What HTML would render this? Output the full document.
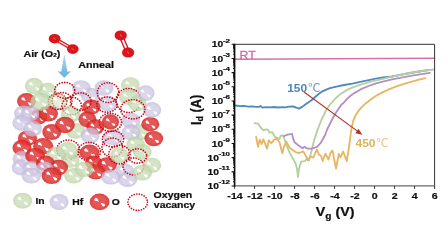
<!DOCTYPE html>
<html lang="en"><head><meta charset="utf-8"><title>Oxygen vacancy annealing figure</title>
<style>html,body{margin:0;padding:0;background:#fff}body{width:448px;height:252px;overflow:hidden}</style></head>
<body>
<svg width="448" height="252" viewBox="0 0 448 252" style="display:block" font-family='"Liberation Sans", "Noto Sans CJK SC", sans-serif' font-weight="bold">
<defs><linearGradient id="ba" x1="0" y1="0" x2="0" y2="1"><stop offset="0" stop-color="#b4dcf2"/><stop offset="0.55" stop-color="#86c3e8"/><stop offset="1" stop-color="#62afe0"/></linearGradient><radialGradient id="gg"><stop offset="0.6" stop-color="#c8dbb3"/><stop offset="1" stop-color="#bad0a1"/></radialGradient><radialGradient id="gp"><stop offset="0.6" stop-color="#d0c8e3"/><stop offset="1" stop-color="#c1b8d9"/></radialGradient><radialGradient id="gr"><stop offset="0.6" stop-color="#e03a3a"/><stop offset="1" stop-color="#d72020"/></radialGradient><filter id="bl3" x="-5%" y="-5%" width="110%" height="110%"><feGaussianBlur stdDeviation="0.25"/></filter><filter id="bl2" x="-2%" y="-2%" width="104%" height="104%"><feGaussianBlur stdDeviation="0.35"/></filter><filter id="bl" x="-5%" y="-5%" width="110%" height="110%"><feGaussianBlur stdDeviation="0.42"/></filter><path id="hl" transform="rotate(37)" fill="#fff" d="M-0.9,0 C-2.2,-0.25 -3.2,-1.3 -4.7,-1.5 C-6.9,-1.7 -6.9,1.7 -4.7,1.5 C-3.2,1.3 -2.2,0.25 -0.9,0 Z M0.9,0 C2.2,-0.25 3.2,-1.2 4.7,-1.4 C6.8,-1.6 6.8,1.6 4.7,1.4 C3.2,1.2 2.2,0.25 0.9,0 Z"/></defs>
<rect width="448" height="252" fill="#fff"/>
<g id="o2" filter="url(#bl2)"><line x1="54.6" y1="38.7" x2="72.8" y2="49.1" stroke="#d6181e" stroke-width="3.7"/><line x1="54.6" y1="38.7" x2="72.8" y2="49.1" stroke="#fff" stroke-width="1.15"/><ellipse cx="54.6" cy="38.7" rx="5.9" ry="4.8" fill="#d8181e"/><line x1="53.30" y1="37.96" x2="55.90" y2="39.44" stroke="#ef8f8a" stroke-width="0.6"/><ellipse cx="72.8" cy="49.1" rx="5.9" ry="4.8" fill="#d8181e"/><line x1="71.50" y1="48.36" x2="74.10" y2="49.84" stroke="#ef8f8a" stroke-width="0.6"/><line x1="120.7" y1="35.4" x2="128.1" y2="52.6" stroke="#d6181e" stroke-width="4.7"/><line x1="120.7" y1="35.4" x2="128.1" y2="52.6" stroke="#fff" stroke-width="1.9"/><ellipse cx="120.7" cy="35.4" rx="6.1" ry="5.0" fill="#d8181e"/><line x1="120.11" y1="34.02" x2="121.29" y2="36.78" stroke="#ef8f8a" stroke-width="0.6"/><ellipse cx="128.1" cy="52.6" rx="6.1" ry="5.0" fill="#d8181e"/><line x1="127.51" y1="51.22" x2="128.69" y2="53.98" stroke="#ef8f8a" stroke-width="0.6"/></g>
<path d="M64.3,54.0 L67.4,71.7 L71.0,71.2 L64.3,77.8 L57.6,71.2 L61.2,71.7 Z" fill="url(#ba)" filter="url(#bl2)"/>
<text transform="translate(23.4 56.6) scale(1.18 1)" font-size="9.1" text-anchor="start" fill="#111" stroke="#111" stroke-width="0.22">Air (O<tspan font-size="5.4" dy="0.4">2</tspan><tspan dy="-0.4">)</tspan></text>
<text transform="translate(78.2 67.7) scale(1.18 1)" font-size="9.1" text-anchor="start" fill="#111" stroke="#111" stroke-width="0.22">Anneal</text>
<g id="balls" filter="url(#bl)">
<ellipse cx="47.5" cy="90.8" rx="9.3" ry="8" fill="url(#gg)" fill-opacity="0.75"/><use href="#hl" transform="translate(47.65 91.20) scale(0.930)"/>
<ellipse cx="34.1" cy="86" rx="9.2" ry="8.2" fill="url(#gg)" fill-opacity="0.75"/><use href="#hl" transform="translate(34.25 86.40) scale(0.920)"/>
<ellipse cx="26.5" cy="101.2" rx="9.5" ry="8.2" fill="url(#gr)" fill-opacity="0.85"/><use href="#hl" transform="translate(26.65 101.60) scale(0.950)"/>
<ellipse cx="38.5" cy="116.8" rx="8.8" ry="7.6" fill="url(#gr)" fill-opacity="0.85"/><use href="#hl" transform="translate(38.65 117.20) scale(0.880)"/>
<ellipse cx="48.2" cy="113.5" rx="9.8" ry="8" fill="url(#gr)" fill-opacity="0.85"/><use href="#hl" transform="translate(48.35 113.90) scale(0.980)"/>
<ellipse cx="62" cy="101" rx="10" ry="8.5" fill="none" stroke="#c20812" stroke-width="1.7" stroke-dasharray="0.01 2.62" stroke-linecap="round"/>
<ellipse cx="57.5" cy="101.5" rx="9.3" ry="7.8" fill="none" stroke="#c20812" stroke-width="1.7" stroke-dasharray="0.01 2.62" stroke-linecap="round"/>
<ellipse cx="58" cy="101.2" rx="9.3" ry="8" fill="url(#gg)" fill-opacity="0.5"/><use href="#hl" transform="translate(58.15 101.60) scale(0.930)"/>
<ellipse cx="40.7" cy="101.8" rx="10.3" ry="9.2" fill="url(#gg)" fill-opacity="0.75"/><use href="#hl" transform="translate(40.85 102.20) scale(1.030)"/>
<ellipse cx="90" cy="95.5" rx="9.3" ry="7.8" fill="url(#gp)" fill-opacity="0.75"/><use href="#hl" transform="translate(90.15 95.90) scale(0.930)"/>
<ellipse cx="81.3" cy="88" rx="9.4" ry="7.8" fill="url(#gp)" fill-opacity="0.75"/><use href="#hl" transform="translate(81.45 88.40) scale(0.940)"/>
<ellipse cx="104" cy="88" rx="9.5" ry="7.7" fill="url(#gp)" fill-opacity="0.75"/><use href="#hl" transform="translate(104.15 88.40) scale(0.950)"/>
<ellipse cx="107.8" cy="103.5" rx="9" ry="7.8" fill="url(#gp)" fill-opacity="0.75"/><use href="#hl" transform="translate(107.95 103.90) scale(0.900)"/>
<ellipse cx="91.3" cy="107" rx="9.2" ry="7.6" fill="url(#gr)" fill-opacity="0.85"/><use href="#hl" transform="translate(91.45 107.40) scale(0.920)"/>
<ellipse cx="130.3" cy="85" rx="9.4" ry="7.7" fill="url(#gg)" fill-opacity="0.75"/><use href="#hl" transform="translate(130.45 85.40) scale(0.940)"/>
<ellipse cx="23.2" cy="113.4" rx="9.2" ry="7.8" fill="url(#gp)" fill-opacity="0.75"/><use href="#hl" transform="translate(23.35 113.80) scale(0.920)"/>
<ellipse cx="30" cy="113.8" rx="9.2" ry="7.8" fill="url(#gp)" fill-opacity="0.75"/><use href="#hl" transform="translate(30.15 114.20) scale(0.920)"/>
<ellipse cx="21.7" cy="123" rx="9.3" ry="7.9" fill="url(#gp)" fill-opacity="0.75"/><use href="#hl" transform="translate(21.85 123.40) scale(0.930)"/>
<ellipse cx="71.7" cy="106" rx="9.8" ry="8.8" fill="none" stroke="#c20812" stroke-width="1.7" stroke-dasharray="0.01 2.62" stroke-linecap="round"/>
<ellipse cx="70.5" cy="114.2" rx="9.6" ry="8.6" fill="url(#gg)" fill-opacity="0.75"/><use href="#hl" transform="translate(70.65 114.60) scale(0.960)"/>
<ellipse cx="51.8" cy="132" rx="9.5" ry="8" fill="url(#gr)" fill-opacity="0.85"/><use href="#hl" transform="translate(51.95 132.40) scale(0.950)"/>
<ellipse cx="75.5" cy="130.8" rx="9.3" ry="7.9" fill="url(#gg)" fill-opacity="0.75"/><use href="#hl" transform="translate(75.65 131.20) scale(0.930)"/>
<ellipse cx="64.9" cy="125" rx="9.9" ry="8.2" fill="url(#gr)" fill-opacity="0.85"/><use href="#hl" transform="translate(65.05 125.40) scale(0.990)"/>
<ellipse cx="87.4" cy="119.3" rx="9" ry="8" fill="url(#gr)" fill-opacity="0.85"/><use href="#hl" transform="translate(87.55 119.70) scale(0.900)"/>
<ellipse cx="95.3" cy="127" rx="9" ry="7.8" fill="url(#gr)" fill-opacity="0.85"/><use href="#hl" transform="translate(95.45 127.40) scale(0.900)"/>
<ellipse cx="110.5" cy="121.8" rx="8.6" ry="7.6" fill="url(#gr)" fill-opacity="0.85"/><use href="#hl" transform="translate(110.65 122.20) scale(0.860)"/>
<ellipse cx="90.2" cy="135.7" rx="9.4" ry="7.9" fill="url(#gp)" fill-opacity="0.75"/><use href="#hl" transform="translate(90.35 136.10) scale(0.940)"/>
<ellipse cx="131" cy="120.7" rx="9.3" ry="7.9" fill="url(#gp)" fill-opacity="0.75"/><use href="#hl" transform="translate(131.15 121.10) scale(0.930)"/>
<ellipse cx="140" cy="132.4" rx="9.3" ry="7.9" fill="url(#gg)" fill-opacity="0.75"/><use href="#hl" transform="translate(140.15 132.80) scale(0.930)"/>
<ellipse cx="131" cy="132.5" rx="9.3" ry="7.9" fill="url(#gp)" fill-opacity="0.75"/><use href="#hl" transform="translate(131.15 132.90) scale(0.930)"/>
<ellipse cx="150.3" cy="124.2" rx="9" ry="7.3" fill="url(#gr)" fill-opacity="0.85"/><use href="#hl" transform="translate(150.45 124.60) scale(0.900)"/>
<ellipse cx="128.6" cy="100.5" rx="12.6" ry="12" fill="none" stroke="#c20812" stroke-width="1.7" stroke-dasharray="0.01 2.62" stroke-linecap="round"/>
<ellipse cx="128.3" cy="97" rx="9.3" ry="7.9" fill="url(#gg)" fill-opacity="0.75"/><use href="#hl" transform="translate(128.45 97.40) scale(0.930)"/>
<ellipse cx="137.2" cy="103.4" rx="9.3" ry="7.8" fill="url(#gg)" fill-opacity="0.75"/><use href="#hl" transform="translate(137.35 103.80) scale(0.930)"/>
<ellipse cx="145.6" cy="93.1" rx="9" ry="7.9" fill="url(#gp)" fill-opacity="0.75"/><use href="#hl" transform="translate(145.75 93.50) scale(0.900)"/>
<ellipse cx="152" cy="110" rx="9.2" ry="7.9" fill="url(#gp)" fill-opacity="0.75"/><use href="#hl" transform="translate(152.15 110.40) scale(0.920)"/>
<ellipse cx="27.5" cy="138.2" rx="9.6" ry="7.6" fill="url(#gr)" fill-opacity="0.85"/><use href="#hl" transform="translate(27.65 138.60) scale(0.960)"/>
<ellipse cx="32.7" cy="128.6" rx="9.3" ry="7.9" fill="url(#gp)" fill-opacity="0.75"/><use href="#hl" transform="translate(32.85 129.00) scale(0.930)"/>
<ellipse cx="22" cy="147.8" rx="9.5" ry="8" fill="url(#gr)" fill-opacity="0.85"/><use href="#hl" transform="translate(22.15 148.20) scale(0.950)"/>
<ellipse cx="43.2" cy="146.3" rx="10.1" ry="8.2" fill="url(#gr)" fill-opacity="0.85"/><use href="#hl" transform="translate(43.35 146.70) scale(1.010)"/>
<ellipse cx="21.8" cy="159" rx="9.3" ry="7.9" fill="url(#gp)" fill-opacity="0.75"/><use href="#hl" transform="translate(21.95 159.40) scale(0.930)"/>
<ellipse cx="35.1" cy="155.8" rx="9.9" ry="7.8" fill="url(#gr)" fill-opacity="0.85"/><use href="#hl" transform="translate(35.25 156.20) scale(0.990)"/>
<ellipse cx="68.1" cy="149.7" rx="11.3" ry="9.7" fill="none" stroke="#c20812" stroke-width="1.7" stroke-dasharray="0.01 2.62" stroke-linecap="round"/>
<ellipse cx="70.3" cy="160" rx="9.3" ry="7.8" fill="url(#gg)" fill-opacity="0.75"/><use href="#hl" transform="translate(70.45 160.40) scale(0.930)"/>
<ellipse cx="67.8" cy="150.5" rx="9.9" ry="8.5" fill="url(#gg)" fill-opacity="0.75"/><use href="#hl" transform="translate(67.95 150.90) scale(0.990)"/>
<ellipse cx="56" cy="155" rx="9.9" ry="8.2" fill="url(#gg)" fill-opacity="0.75"/><use href="#hl" transform="translate(56.15 155.40) scale(0.990)"/>
<ellipse cx="112.8" cy="137" rx="10.2" ry="8" fill="url(#gp)" fill-opacity="0.75"/><use href="#hl" transform="translate(112.95 137.40) scale(1.020)"/>
<ellipse cx="89.2" cy="151.6" rx="11.2" ry="9.2" fill="none" stroke="#c20812" stroke-width="1.7" stroke-dasharray="0.01 2.62" stroke-linecap="round"/>
<ellipse cx="89.5" cy="152.5" rx="9.9" ry="7.9" fill="url(#gr)" fill-opacity="0.85"/><use href="#hl" transform="translate(89.65 152.90) scale(0.990)"/>
<ellipse cx="93.5" cy="162.5" rx="8.5" ry="7" fill="url(#gr)" fill-opacity="0.85"/><use href="#hl" transform="translate(93.65 162.90) scale(0.850)"/>
<ellipse cx="107" cy="165" rx="9.9" ry="7.7" fill="url(#gr)" fill-opacity="0.85"/><use href="#hl" transform="translate(107.15 165.40) scale(0.990)"/>
<ellipse cx="112.3" cy="147.6" rx="10.3" ry="9.5" fill="none" stroke="#c20812" stroke-width="1.7" stroke-dasharray="0.01 2.62" stroke-linecap="round"/>
<ellipse cx="119.3" cy="155.3" rx="9.2" ry="8" fill="url(#gg)" fill-opacity="0.75"/><use href="#hl" transform="translate(119.45 155.70) scale(0.920)"/>
<ellipse cx="135.5" cy="144.5" rx="9.3" ry="7.9" fill="url(#gg)" fill-opacity="0.75"/><use href="#hl" transform="translate(135.65 144.90) scale(0.930)"/>
<ellipse cx="153.8" cy="138.6" rx="9.4" ry="7.6" fill="url(#gr)" fill-opacity="0.85"/><use href="#hl" transform="translate(153.95 139.00) scale(0.940)"/>
<ellipse cx="20.7" cy="167.5" rx="9" ry="7.9" fill="url(#gp)" fill-opacity="0.75"/><use href="#hl" transform="translate(20.85 167.90) scale(0.900)"/>
<ellipse cx="31.4" cy="168.6" rx="9.3" ry="7.6" fill="url(#gp)" fill-opacity="0.75"/><use href="#hl" transform="translate(31.55 169.00) scale(0.930)"/>
<ellipse cx="31.4" cy="175.7" rx="9.7" ry="7.9" fill="url(#gp)" fill-opacity="0.75"/><use href="#hl" transform="translate(31.55 176.10) scale(0.970)"/>
<ellipse cx="45.5" cy="163.3" rx="9.5" ry="7.8" fill="url(#gr)" fill-opacity="0.85"/><use href="#hl" transform="translate(45.65 163.70) scale(0.950)"/>
<ellipse cx="58.6" cy="167.5" rx="9.5" ry="7.8" fill="url(#gr)" fill-opacity="0.85"/><use href="#hl" transform="translate(58.75 167.90) scale(0.950)"/>
<ellipse cx="44.8" cy="168.2" rx="8.4" ry="6.8" fill="url(#gp)" fill-opacity="0.75"/><use href="#hl" transform="translate(44.95 168.60) scale(0.840)"/>
<ellipse cx="51.6" cy="175.8" rx="10" ry="8.3" fill="url(#gr)" fill-opacity="0.85"/><use href="#hl" transform="translate(51.75 176.20) scale(1.000)"/>
<ellipse cx="73.9" cy="175.8" rx="9.7" ry="7.8" fill="url(#gg)" fill-opacity="0.75"/><use href="#hl" transform="translate(74.05 176.20) scale(0.970)"/>
<ellipse cx="95.8" cy="171.8" rx="9.4" ry="7.8" fill="url(#gr)" fill-opacity="0.85"/><use href="#hl" transform="translate(95.95 172.20) scale(0.940)"/>
<ellipse cx="84" cy="169.4" rx="9.6" ry="7.6" fill="url(#gg)" fill-opacity="0.75"/><use href="#hl" transform="translate(84.15 169.80) scale(0.960)"/>
<ellipse cx="124.8" cy="171.2" rx="9.3" ry="7.6" fill="url(#gp)" fill-opacity="0.75"/><use href="#hl" transform="translate(124.95 171.60) scale(0.930)"/>
<ellipse cx="110.9" cy="177.2" rx="9.8" ry="7.4" fill="url(#gp)" fill-opacity="0.75"/><use href="#hl" transform="translate(111.05 177.60) scale(0.980)"/>
<ellipse cx="127.6" cy="179.5" rx="9.8" ry="7.4" fill="url(#gp)" fill-opacity="0.75"/><use href="#hl" transform="translate(127.75 179.90) scale(0.980)"/>
<ellipse cx="133.5" cy="166.4" rx="10.5" ry="8.5" fill="none" stroke="#c20812" stroke-width="1.7" stroke-dasharray="0.01 2.62" stroke-linecap="round"/>
<ellipse cx="142.3" cy="151.8" rx="9.3" ry="7.9" fill="url(#gg)" fill-opacity="0.75"/><use href="#hl" transform="translate(142.45 152.20) scale(0.930)"/>
<ellipse cx="151.8" cy="165.4" rx="9.5" ry="7.7" fill="url(#gg)" fill-opacity="0.75"/><use href="#hl" transform="translate(151.95 165.80) scale(0.950)"/>
<ellipse cx="142.2" cy="172.8" rx="9.9" ry="7.8" fill="url(#gg)" fill-opacity="0.75"/><use href="#hl" transform="translate(142.35 173.20) scale(0.990)"/>
</g><g id="vac">
<ellipse cx="64.7" cy="90.3" rx="10" ry="7.9" fill="none" stroke="#c20812" stroke-width="1.7" stroke-dasharray="0.01 2.62" stroke-linecap="round"/>
<ellipse cx="108.1" cy="92.6" rx="10.8" ry="9.9" fill="none" stroke="#c20812" stroke-width="1.7" stroke-dasharray="0.01 2.62" stroke-linecap="round"/>
<ellipse cx="80.8" cy="101.5" rx="10.3" ry="8.7" fill="none" stroke="#c20812" stroke-width="1.7" stroke-dasharray="0.01 2.62" stroke-linecap="round"/>
<ellipse cx="110.4" cy="122.3" rx="11.2" ry="9" fill="none" stroke="#c20812" stroke-width="1.7" stroke-dasharray="0.01 2.62" stroke-linecap="round"/>
<ellipse cx="113" cy="139" rx="10.7" ry="7.9" fill="none" stroke="#c20812" stroke-width="1.7" stroke-dasharray="0.01 2.62" stroke-linecap="round"/>
<ellipse cx="107" cy="104.6" rx="10.2" ry="7.6" fill="none" stroke="#c20812" stroke-width="1.7" stroke-dasharray="0.01 2.62" stroke-linecap="round"/>
<ellipse cx="119.4" cy="154.5" rx="10.7" ry="9.4" fill="none" stroke="#c20812" stroke-width="1.7" stroke-dasharray="0.01 2.62" stroke-linecap="round"/>
<ellipse cx="137.4" cy="156" rx="9.2" ry="7.2" fill="none" stroke="#c20812" stroke-width="1.7" stroke-dasharray="0.01 2.62" stroke-linecap="round"/>
<ellipse cx="132.8" cy="109.3" rx="12.2" ry="9.6" fill="none" stroke="#c20812" stroke-width="1.7" stroke-dasharray="0.01 2.62" stroke-linecap="round"/>
</g>
<g id="legend" filter="url(#bl)">
<ellipse cx="22.6" cy="200.7" rx="9.5" ry="8" fill="url(#gg)" fill-opacity="0.75"/><use href="#hl" transform="translate(22.75 201.10) scale(0.950)"/>
<text transform="translate(35.5 204.4) scale(1.15 1)" font-size="9" text-anchor="start" fill="#111" stroke="#111" stroke-width="0.22">In</text>
<ellipse cx="59.1" cy="202" rx="9.5" ry="8" fill="url(#gp)" fill-opacity="0.75"/><use href="#hl" transform="translate(59.25 202.40) scale(0.950)"/>
<text transform="translate(72.2 204.9) scale(1.15 1)" font-size="9" text-anchor="start" fill="#111" stroke="#111" stroke-width="0.22">Hf</text>
<ellipse cx="99.6" cy="201.9" rx="9.9" ry="8.3" fill="url(#gr)" fill-opacity="0.85"/><use href="#hl" transform="translate(99.75 202.30) scale(0.990)"/>
<text transform="translate(111.7 204.9) scale(1.15 1)" font-size="9" text-anchor="start" fill="#111" stroke="#111" stroke-width="0.22">O</text>
</g><g>
<ellipse cx="137.7" cy="202.2" rx="9.8" ry="8.2" fill="none" stroke="#c20812" stroke-width="1.65" stroke-dasharray="0.01 2.57" stroke-linecap="round"/>
<text transform="translate(153.6 197.8) scale(1.17 1)" font-size="9" text-anchor="start" fill="#111" stroke="#111" stroke-width="0.22">Oxygen</text>
<text transform="translate(153.8 208) scale(1.165 1)" font-size="9" text-anchor="start" fill="#111" stroke="#111" stroke-width="0.22">vacancy</text>
</g>
<g id="chart">
<g filter="url(#bl2)">
<path d="M235.6,105.5 L240.0,106.2 L244.0,105.9 L248.0,106.6 L252.0,106.3 L256.0,106.8 L258.8,106.9 L260.5,106.0 L262.4,107.6 L266.0,107.2 L270.0,107.4 L274.0,107.0 L278.0,107.5 L282.0,107.1 L285.6,107.3 L289.0,106.6 L292.7,106.4 L296.0,107.5 L299.0,108.6 L302.0,106.9 L306.0,104.0 L311.5,100.2 L314.1,98.0 L318.0,94.5 L322.0,91.6 L325.7,89.8 L330.0,88.2 L336.4,86.6 L344.0,85.0 L352.5,83.6 L361.4,81.7 L370.0,79.9 L376.0,78.7 L382.9,77.5 L388.0,76.9 L392.0,76.5 L399.0,75.1 L410.0,73.0 L422.0,71.0 L430.0,69.9" fill="none" stroke="#4f8abb" stroke-width="1.85" stroke-linejoin="round" stroke-linecap="round"/>
<path d="M254.5,123.2 L258.0,123.6 L260.7,127.5 L263.4,130.4 L265.7,129.3 L267.9,129.8 L269.6,132.9 L272.3,132.1 L275.0,137.0 L277.7,137.9 L279.5,139.1 L280.7,135.7 L283.0,135.5 L284.8,140.0 L287.5,147.6 L290.2,154.0 L293.8,160.0 L296.0,164.6 L297.2,170.0 L298.0,177.1 L298.8,170.0 L299.5,166.8 L301.2,161.6 L304.8,161.1 L307.5,158.3 L309.0,160.5 L311.6,150.4 L314.3,139.6 L317.9,128.9 L321.4,120.0 L326.2,110.0 L330.0,104.5 L335.0,99.0 L340.0,94.3 L347.1,89.9 L354.0,86.9 L361.4,84.4 L370.0,81.9 L376.0,80.4 L382.9,78.8 L390.0,77.2 L399.0,75.1 L410.0,73.0 L422.0,71.0 L433.8,69.5" fill="none" stroke="#b4cfa0" stroke-width="1.85" stroke-linejoin="round" stroke-linecap="round"/>
<path d="M283.9,136.1 L287.5,134.6 L292.0,133.9 L292.9,137.9 L294.6,142.3 L299.1,145.9 L302.7,148.2 L304.5,146.8 L307.1,148.6 L311.6,148.6 L317.0,146.8 L320.5,143.2 L323.0,139.0 L325.0,135.2 L327.1,129.5 L331.6,120.5 L334.5,115.0 L337.9,109.8 L341.5,104.5 L343.5,103.0 L347.1,98.9 L350.5,95.8 L354.3,93.1 L361.0,89.2 L368.6,86.0 L376.0,83.4 L382.9,81.6 L392.0,79.4 L404.0,77.2 L412.0,75.7 L420.0,74.3 L429.8,72.9" fill="none" stroke="#b68fc3" stroke-width="1.85" stroke-linejoin="round" stroke-linecap="round"/>
<path d="M256.2,137.0 L258.0,146.8 L259.8,139.6 L261.6,144.1 L263.4,139.3 L267.0,148.6 L268.8,140.5 L271.4,143.2 L274.1,139.6 L276.8,138.8 L279.5,142.3 L282.3,153.2 L283.9,146.8 L286.3,141.6 L289.4,147.4 L292.0,149.5 L295.5,152.1 L299.1,153.0 L303.3,151.4 L306.2,156.6 L307.8,160.4 L310.4,156.4 L313.4,157.5 L316.8,149.7 L318.9,154.5 L321.0,156.0 L322.7,161.0 L325.4,153.6 L328.5,159.6 L330.7,152.3 L332.5,150.6 L336.0,168.5 L338.8,154.0 L340.5,157.4 L343.2,151.5 L346.8,161.2 L349.5,143.5 L351.2,130.4 L353.0,121.4 L355.5,115.4 L357.9,111.7 L361.0,107.8 L365.0,103.9 L370.0,100.0 L375.7,96.0 L382.0,92.6 L390.0,88.9 L397.0,86.2 L404.0,83.9 L412.0,81.6 L419.0,79.7 L425.3,78.1" fill="none" stroke="#e8b562" stroke-width="1.85" stroke-linejoin="round" stroke-linecap="round"/>
<path d="M235.0,59.3 L434.5,58.2" fill="none" stroke="#d272ad" stroke-width="1.6" stroke-linejoin="round" stroke-linecap="round"/>
</g>
<line x1="304" y1="92" x2="359.5" y2="132.6" stroke="#b0362a" stroke-width="1.15"/>
<path d="M362.4,134.7 L355.4,133.2 L358.4,128.8 Z" fill="#b3312a"/>
<path d="M234.6,44.3 H434.6 V186.0" fill="none" stroke="#333" stroke-width="1"/>
<path d="M234.6,185.8 H435.1" fill="none" stroke="#6a6a6a" stroke-width="1.3"/>
<path d="M234.6,43.8 V186.6" fill="none" stroke="#111" stroke-width="1.6"/>
<path d="M234.6,44.30 h-3.0 M234.6,54.20 h-1.5 M234.6,51.71 h-1.5 M234.6,49.94 h-1.5 M234.6,48.57 h-1.5 M234.6,47.44 h-1.5 M234.6,46.49 h-1.5 M234.6,45.67 h-1.5 M234.6,44.95 h-1.5 M234.6,58.47 h-3.0 M234.6,68.37 h-1.5 M234.6,65.88 h-1.5 M234.6,64.11 h-1.5 M234.6,62.74 h-1.5 M234.6,61.61 h-1.5 M234.6,60.66 h-1.5 M234.6,59.84 h-1.5 M234.6,59.12 h-1.5 M234.6,72.64 h-3.0 M234.6,82.54 h-1.5 M234.6,80.05 h-1.5 M234.6,78.28 h-1.5 M234.6,76.91 h-1.5 M234.6,75.78 h-1.5 M234.6,74.83 h-1.5 M234.6,74.01 h-1.5 M234.6,73.29 h-1.5 M234.6,86.81 h-3.0 M234.6,96.71 h-1.5 M234.6,94.22 h-1.5 M234.6,92.45 h-1.5 M234.6,91.08 h-1.5 M234.6,89.95 h-1.5 M234.6,89.00 h-1.5 M234.6,88.18 h-1.5 M234.6,87.46 h-1.5 M234.6,100.98 h-3.0 M234.6,110.88 h-1.5 M234.6,108.39 h-1.5 M234.6,106.62 h-1.5 M234.6,105.25 h-1.5 M234.6,104.12 h-1.5 M234.6,103.17 h-1.5 M234.6,102.35 h-1.5 M234.6,101.63 h-1.5 M234.6,115.15 h-3.0 M234.6,125.05 h-1.5 M234.6,122.56 h-1.5 M234.6,120.79 h-1.5 M234.6,119.42 h-1.5 M234.6,118.29 h-1.5 M234.6,117.34 h-1.5 M234.6,116.52 h-1.5 M234.6,115.80 h-1.5 M234.6,129.32 h-3.0 M234.6,139.22 h-1.5 M234.6,136.73 h-1.5 M234.6,134.96 h-1.5 M234.6,133.59 h-1.5 M234.6,132.46 h-1.5 M234.6,131.51 h-1.5 M234.6,130.69 h-1.5 M234.6,129.97 h-1.5 M234.6,143.49 h-3.0 M234.6,153.39 h-1.5 M234.6,150.90 h-1.5 M234.6,149.13 h-1.5 M234.6,147.76 h-1.5 M234.6,146.63 h-1.5 M234.6,145.68 h-1.5 M234.6,144.86 h-1.5 M234.6,144.14 h-1.5 M234.6,157.66 h-3.0 M234.6,167.56 h-1.5 M234.6,165.07 h-1.5 M234.6,163.30 h-1.5 M234.6,161.93 h-1.5 M234.6,160.80 h-1.5 M234.6,159.85 h-1.5 M234.6,159.03 h-1.5 M234.6,158.31 h-1.5 M234.6,171.83 h-3.0 M234.6,181.73 h-1.5 M234.6,179.24 h-1.5 M234.6,177.47 h-1.5 M234.6,176.10 h-1.5 M234.6,174.97 h-1.5 M234.6,174.02 h-1.5 M234.6,173.20 h-1.5 M234.6,172.48 h-1.5 M234.6,186.00 h-3.0" stroke="#111" stroke-width="1.1" fill="none"/>
<path d="M234.60,186.0 v2.9 M254.60,186.0 v2.9 M274.60,186.0 v2.9 M294.60,186.0 v2.9 M314.60,186.0 v2.9 M334.60,186.0 v2.9 M354.60,186.0 v2.9 M374.60,186.0 v2.9 M394.60,186.0 v2.9 M414.60,186.0 v2.9 M434.60,186.0 v2.9" stroke="#333" stroke-width="1" fill="none"/>
<text transform="translate(230.0 42.7) scale(1.28 1)" font-size="6.2" text-anchor="end" fill="#111" stroke="#111" stroke-width="0.22">-2</text>
<text transform="translate(223.3 47.4) scale(1.05 1)" font-size="9.8" text-anchor="end" fill="#111" stroke="#111" stroke-width="0.22">10</text>
<text transform="translate(230.0 56.9) scale(1.28 1)" font-size="6.2" text-anchor="end" fill="#111" stroke="#111" stroke-width="0.22">-3</text>
<text transform="translate(223.3 61.6) scale(1.05 1)" font-size="9.8" text-anchor="end" fill="#111" stroke="#111" stroke-width="0.22">10</text>
<text transform="translate(230.0 71.0) scale(1.28 1)" font-size="6.2" text-anchor="end" fill="#111" stroke="#111" stroke-width="0.22">-4</text>
<text transform="translate(223.3 75.7) scale(1.05 1)" font-size="9.8" text-anchor="end" fill="#111" stroke="#111" stroke-width="0.22">10</text>
<text transform="translate(230.0 85.2) scale(1.28 1)" font-size="6.2" text-anchor="end" fill="#111" stroke="#111" stroke-width="0.22">-5</text>
<text transform="translate(223.3 89.9) scale(1.05 1)" font-size="9.8" text-anchor="end" fill="#111" stroke="#111" stroke-width="0.22">10</text>
<text transform="translate(230.0 99.4) scale(1.28 1)" font-size="6.2" text-anchor="end" fill="#111" stroke="#111" stroke-width="0.22">-6</text>
<text transform="translate(223.3 104.1) scale(1.05 1)" font-size="9.8" text-anchor="end" fill="#111" stroke="#111" stroke-width="0.22">10</text>
<text transform="translate(230.0 113.5) scale(1.28 1)" font-size="6.2" text-anchor="end" fill="#111" stroke="#111" stroke-width="0.22">-7</text>
<text transform="translate(223.3 118.2) scale(1.05 1)" font-size="9.8" text-anchor="end" fill="#111" stroke="#111" stroke-width="0.22">10</text>
<text transform="translate(230.0 127.7) scale(1.28 1)" font-size="6.2" text-anchor="end" fill="#111" stroke="#111" stroke-width="0.22">-8</text>
<text transform="translate(223.3 132.4) scale(1.05 1)" font-size="9.8" text-anchor="end" fill="#111" stroke="#111" stroke-width="0.22">10</text>
<text transform="translate(230.0 141.9) scale(1.28 1)" font-size="6.2" text-anchor="end" fill="#111" stroke="#111" stroke-width="0.22">-9</text>
<text transform="translate(223.3 146.6) scale(1.05 1)" font-size="9.8" text-anchor="end" fill="#111" stroke="#111" stroke-width="0.22">10</text>
<text transform="translate(230.0 156.1) scale(1.28 1)" font-size="6.2" text-anchor="end" fill="#111" stroke="#111" stroke-width="0.22">-10</text>
<text transform="translate(218.9 160.8) scale(1.05 1)" font-size="9.8" text-anchor="end" fill="#111" stroke="#111" stroke-width="0.22">10</text>
<text transform="translate(230.0 170.2) scale(1.28 1)" font-size="6.2" text-anchor="end" fill="#111" stroke="#111" stroke-width="0.22">-11</text>
<text transform="translate(218.9 174.9) scale(1.05 1)" font-size="9.8" text-anchor="end" fill="#111" stroke="#111" stroke-width="0.22">10</text>
<text transform="translate(230.0 184.4) scale(1.28 1)" font-size="6.2" text-anchor="end" fill="#111" stroke="#111" stroke-width="0.22">-12</text>
<text transform="translate(218.9 189.1) scale(1.05 1)" font-size="9.8" text-anchor="end" fill="#111" stroke="#111" stroke-width="0.22">10</text>
<text transform="translate(235.0 198.7) scale(1.08 1)" font-size="9.8" text-anchor="middle" fill="#111" stroke="#111" stroke-width="0.22">-14</text>
<text transform="translate(255.0 198.7) scale(1.08 1)" font-size="9.8" text-anchor="middle" fill="#111" stroke="#111" stroke-width="0.22">-12</text>
<text transform="translate(275.0 198.7) scale(1.08 1)" font-size="9.8" text-anchor="middle" fill="#111" stroke="#111" stroke-width="0.22">-10</text>
<text transform="translate(295.0 198.7) scale(1.08 1)" font-size="9.8" text-anchor="middle" fill="#111" stroke="#111" stroke-width="0.22">-8</text>
<text transform="translate(315.0 198.7) scale(1.08 1)" font-size="9.8" text-anchor="middle" fill="#111" stroke="#111" stroke-width="0.22">-6</text>
<text transform="translate(335.0 198.7) scale(1.08 1)" font-size="9.8" text-anchor="middle" fill="#111" stroke="#111" stroke-width="0.22">-4</text>
<text transform="translate(355.0 198.7) scale(1.08 1)" font-size="9.8" text-anchor="middle" fill="#111" stroke="#111" stroke-width="0.22">-2</text>
<text transform="translate(374.7 198.7) scale(1.08 1)" font-size="9.8" text-anchor="middle" fill="#111" stroke="#111" stroke-width="0.22">0</text>
<text transform="translate(394.7 198.7) scale(1.08 1)" font-size="9.8" text-anchor="middle" fill="#111" stroke="#111" stroke-width="0.22">2</text>
<text transform="translate(414.7 198.7) scale(1.08 1)" font-size="9.8" text-anchor="middle" fill="#111" stroke="#111" stroke-width="0.22">4</text>
<text transform="translate(434.7 198.7) scale(1.08 1)" font-size="9.8" text-anchor="middle" fill="#111" stroke="#111" stroke-width="0.22">6</text>
<text transform="translate(315.8 216.0) scale(1.15 1)" font-size="12.4" text-anchor="start" fill="#111" stroke="#111" stroke-width="0.22">V<tspan font-size="8.8" dy="2.6">g</tspan><tspan dy="-2.6"> (V)</tspan></text>
<text transform="translate(200.8,125) scale(1.08 1) rotate(-90)" font-size="12.8" fill="#111" stroke="#111" stroke-width="0.25">I<tspan font-size="8.8" dy="2.4">d</tspan><tspan dy="-2.4"> (A)</tspan></text>
<text transform="translate(239.6 58.7) scale(1.13 1)" font-size="10.9" text-anchor="start" fill="#d06aa8" font-weight="normal" stroke="#d06aa8" stroke-width="0.25">RT</text>
<text transform="translate(287.2 91.5) scale(1.1 1)" font-size="10.9" text-anchor="start" fill="#4a86b8">150<tspan font-weight="normal" font-size="11.4" dx="0.8" fill="#6a9cc6">℃</tspan></text>
<text transform="translate(355.5 147) scale(1.1 1)" font-size="10.9" text-anchor="start" fill="#e6b05a">450<tspan font-weight="normal" font-size="11.4" dx="0.8" fill="#edc47e">℃</tspan></text>
</g>
</svg>
</body></html>
